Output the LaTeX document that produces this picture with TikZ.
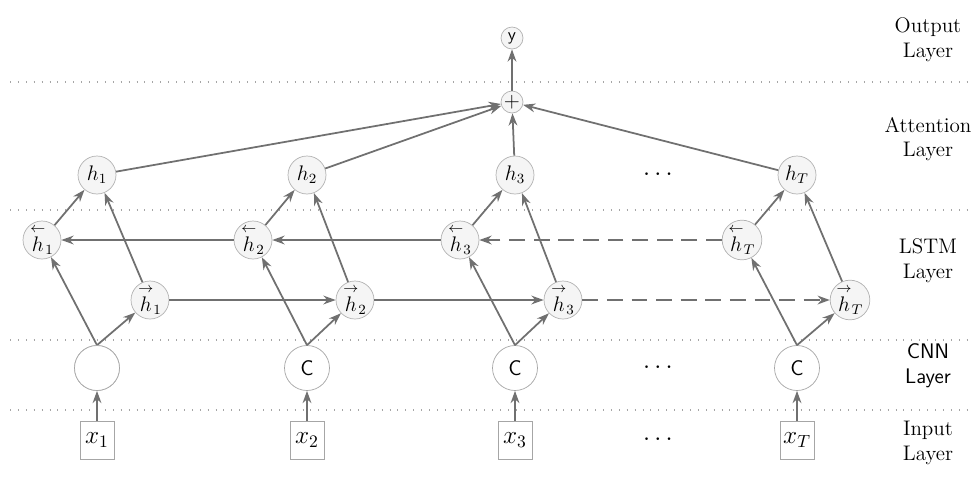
\documentclass[tikz,border=0pt]{standalone}
\usepackage{amsmath}
\usetikzlibrary{arrows.meta}
\definecolor{ln}{HTML}{707070}
\tikzset{
  unit/.style={circle, draw=gray!60, fill=gray!8, inner sep=0pt, minimum size=0.76cm, font=\large},
  cnn/.style={circle, draw=gray!70, fill=white, minimum size=0.9cm, inner sep=0pt, font=\sffamily\large},
  small/.style={circle, draw=gray!60, fill=gray!8, minimum size=0.44cm, inner sep=0pt},
  inp/.style={draw=gray!70, minimum width=0.68cm, minimum height=0.76cm, inner sep=0pt, font=\Large},
  arr/.style={-{Stealth[length=7pt,width=5pt]}, ln, line width=1pt},
  sep/.style={gray!70, line width=1pt, dash pattern=on 0.5pt off 4pt},
  lbl/.style={align=center, font=\large, text=black}
}
\begin{document}
\begin{tikzpicture}[x=0.02cm, y=-0.02cm]
  \useasboundingbox (0,0) rectangle (977,491);

  % Layer separators
  \foreach \yy in {82,210,340,410}
    \draw[sep] (10,\yy) -- (970,\yy);

  % Layer names
  \node[lbl] at (928,40) {Output\\Layer};
  \node[lbl] at (928,139) {Attention\\Layer};
  \node[lbl] at (928,261) {LSTM\\Layer};
  \node[lbl, font=\sffamily\large] at (928,366) {CNN\\Layer};
  \node[lbl] at (928,443) {Input\\Layer};

  % Output and sum
  \node[small, font=\sffamily] (y) at (512,38) {y};
  \node[small] (sum) at (512,102) {\large$+$};

  % Columns
  \foreach \n/\xc/\xb/\xf/\s in {1/97/42/150/1, 2/307/253/355/2, 3/515/460/563/3, T/797/742/850/T}{
    \node[inp] (x\n) at (\xc,440) {$x_{\s}$};
    \node[cnn] (c\n) at (\xc,368) {C};
    \node[unit] (hb\n) at (\xb,240) {$\overset{\leftarrow}{h}_{\s}$};
    \node[unit] (hf\n) at (\xf,300) {$\overset{\rightarrow}{h}_{\s}$};
    \node[unit] (h\n) at (\xc,175) {$h_{\s}$};
    \draw[arr] (x\n) -- (c\n);
    \draw[arr] (c\n.north) -- (hb\n);
    \draw[arr] (c\n.north) -- (hf\n);
    \draw[arr] (hb\n) -- (h\n);
    \draw[arr] (hf\n) -- (h\n);
    \draw[arr] (h\n) -- (sum);
  }
  % first CNN unit is empty
  \node[cnn] at (c1) {};

  % Recurrent connections
  \draw[arr] (hb2) -- (hb1);
  \draw[arr] (hb3) -- (hb2);
  \draw[arr, dashed, dash pattern=on 9pt off 5pt] (hbT) -- (hb3);
  \draw[arr] (hf1) -- (hf2);
  \draw[arr] (hf2) -- (hf3);
  \draw[arr, dashed, dash pattern=on 9pt off 5pt] (hf3) -- (hfT);

  \draw[arr] (sum) -- (y);

  % Ellipses
  \foreach \yy in {175,368,440}
    \node at (660,\yy) {\Large$\cdots$};
\end{tikzpicture}
\end{document}
